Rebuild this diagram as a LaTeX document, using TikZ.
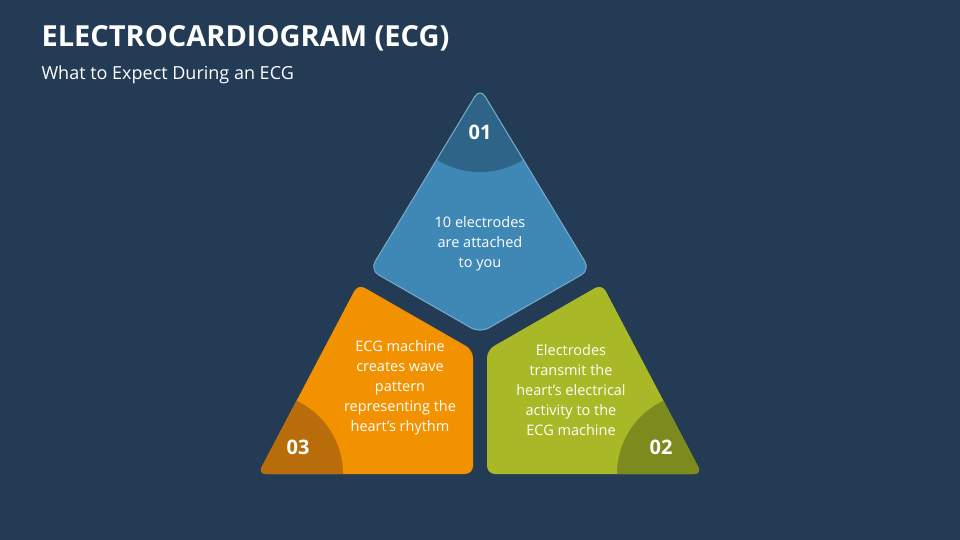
\documentclass[tikz,border=0pt]{standalone}
\usepackage{fontspec}
\setmainfont{Open Sans}
\definecolor{bg}{HTML}{243B55}
\definecolor{blu}{HTML}{3F88B5}
\definecolor{bluD}{HTML}{2E6488}
\definecolor{org}{HTML}{F39200}
\definecolor{orgD}{HTML}{B86D0A}
\definecolor{grn}{HTML}{A8B826}
\definecolor{grnD}{HTML}{7C8A1E}
\begin{document}
\begin{tikzpicture}[x=1pt,y=-1pt,
  txt/.style={text=white,font=\fontsize{14.5}{20}\selectfont,align=center},
  num/.style={text=white,font=\bfseries\fontsize{20}{24}\selectfont}]
\fill[bg] (0,0) rectangle (960,540);
\useasboundingbox (0,0) rectangle (960,540);
\node[anchor=west,text=white,font=\bfseries\fontsize{29}{34}\selectfont] (title) at (38,38) {ELECTROCARDIOGRAM (ECG)};
\node[anchor=west,text=white,font=\fontsize{18}{22}\selectfont] (sub) at (38,75) {What to Expect During an ECG};
% blue
\begin{scope}
\clip[rounded corners=10] (480,88) -- (590,270) -- (480,333) -- (370,270) -- cycle;
\fill[blu] (360,80) rectangle (600,340);
\fill[bluD] (480,90) circle (82);
\end{scope}
\draw[blu!70!white,line width=1pt,rounded corners=10] (480,88) -- (590,270) -- (480,333) -- (370,270) -- cycle;
% orange
\begin{scope}
\clip[rounded corners=8] (358,284) -- (473,350) -- (473,474) -- (258,474) -- cycle;
\fill[org] (250,280) rectangle (480,480);
\fill[orgD] (262,474) circle (81);
\end{scope}
% green
\begin{scope}
\clip[rounded corners=8] (602,284) -- (487,350) -- (487,474) -- (702,474) -- cycle;
\fill[grn] (480,280) rectangle (710,480);
\fill[grnD] (698,474) circle (81);
\end{scope}
\node[num] (n1) at (480,132) {01};
\node[num] (n2) at (661,447) {02};
\node[num] (n3) at (298,447) {03};
\node[txt] (t1) at (480,244) {10 electrodes\\are attached\\to you};
\node[txt] (t2) at (571,390) {Electrodes\\transmit the\\heart's electrical\\activity to the\\ECG machine};
\node[txt] (t3) at (400,388) {ECG machine\\creates wave\\pattern\\representing the\\heart's rhythm};
\end{tikzpicture}
\end{document}
